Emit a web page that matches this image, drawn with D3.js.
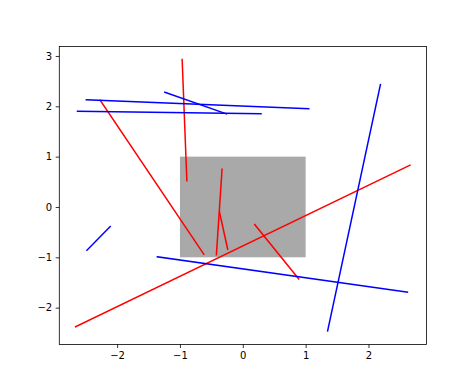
<!DOCTYPE html>
<html>
<head>
<meta charset="utf-8">
<script src="https://cdn.jsdelivr.net/npm/d3@7"></script>
<style>
  body { margin: 0; background: #fff; }
  .axis text { font-family: "DejaVu Sans", sans-serif; font-size: 10px; fill: #000; }
  .axis path, .axis line { stroke: #000; stroke-width: 0.8; }
</style>
</head>
<body>
<script>
var xTicks = [-2, -1, 0, 1, 2];
var yTicks = [-2, -1, 0, 1, 2, 3];

// shaded box [x0, y0, x1, y1]
var box = [-1, -1, 1, 1];

// segments: [x1, y1, x2, y2]
var redSegments = [
  [-2.66, -2.38, 2.66, 0.83],
  [-2.27, 2.12, -0.62, -0.94],
  [-0.965, 2.93, -0.89, 0.52],
  [-0.33, 0.75, -0.42, -0.95],
  [-0.37, -0.105, -0.24, -0.84],
  [0.19, -0.35, 0.89, -1.43]
];
var blueSegments = [
  [-2.49, 2.13, 1.05, 1.95],
  [-2.63, 1.90, 0.29, 1.85],
  [-1.24, 2.28, -0.26, 1.85],
  [-2.48, -0.86, -2.11, -0.39],
  [-1.36, -0.99, 2.62, -1.69],
  [1.35, -2.46, 2.19, 2.43]
];

var W = 474, H = 387;
var margin = {top: 46.4, right: 47.4, bottom: 42.6, left: 59.3},
    width = W - margin.left - margin.right,
    height = H - margin.top - margin.bottom;

var svg = d3.select("body").append("svg")
    .attr("width", W)
    .attr("height", H);

var g = svg.append("g")
    .attr("transform", "translate(" + margin.left + "," + margin.top + ")");

var x = d3.scaleLinear().domain([-2.92, 2.925]).range([0, width]);
var y = d3.scaleLinear().domain([-2.73, 3.19]).range([height, 0]);

var fmt = function(d) { return d < 0 ? "\u2212" + Math.abs(d) : d; };

g.append("rect")
    .attr("x", x(box[0]))
    .attr("y", y(box[3]))
    .attr("width", x(box[2]) - x(box[0]))
    .attr("height", y(box[1]) - y(box[3]))
    .attr("fill", "#a9a9a9");

function drawSegs(data, color) {
  g.append("g").selectAll("line")
      .data(data)
    .enter().append("line")
      .attr("x1", function(d) { return x(d[0]); })
      .attr("y1", function(d) { return y(d[1]); })
      .attr("x2", function(d) { return x(d[2]); })
      .attr("y2", function(d) { return y(d[3]); })
      .attr("stroke", color)
      .attr("stroke-width", 1.5)
      .attr("stroke-linecap", "square");
}
drawSegs(redSegments, "#ff0000");
drawSegs(blueSegments, "#0000ff");

// frame
g.append("rect")
    .attr("width", width)
    .attr("height", height)
    .attr("fill", "none")
    .attr("stroke", "#000")
    .attr("stroke-width", 0.8);

g.append("g")
    .attr("class", "axis")
    .attr("transform", "translate(0," + height + ")")
    .call(d3.axisBottom(x).tickValues(xTicks).tickFormat(fmt).tickSizeInner(3.6).tickSizeOuter(0).tickPadding(3.5))
    .call(function(s) { s.select(".domain").remove(); });

g.append("g")
    .attr("class", "axis")
    .call(d3.axisLeft(y).tickValues(yTicks).tickFormat(fmt).tickSizeInner(3.6).tickSizeOuter(0).tickPadding(3.5))
    .call(function(s) { s.select(".domain").remove(); });
</script>
</body>
</html>
